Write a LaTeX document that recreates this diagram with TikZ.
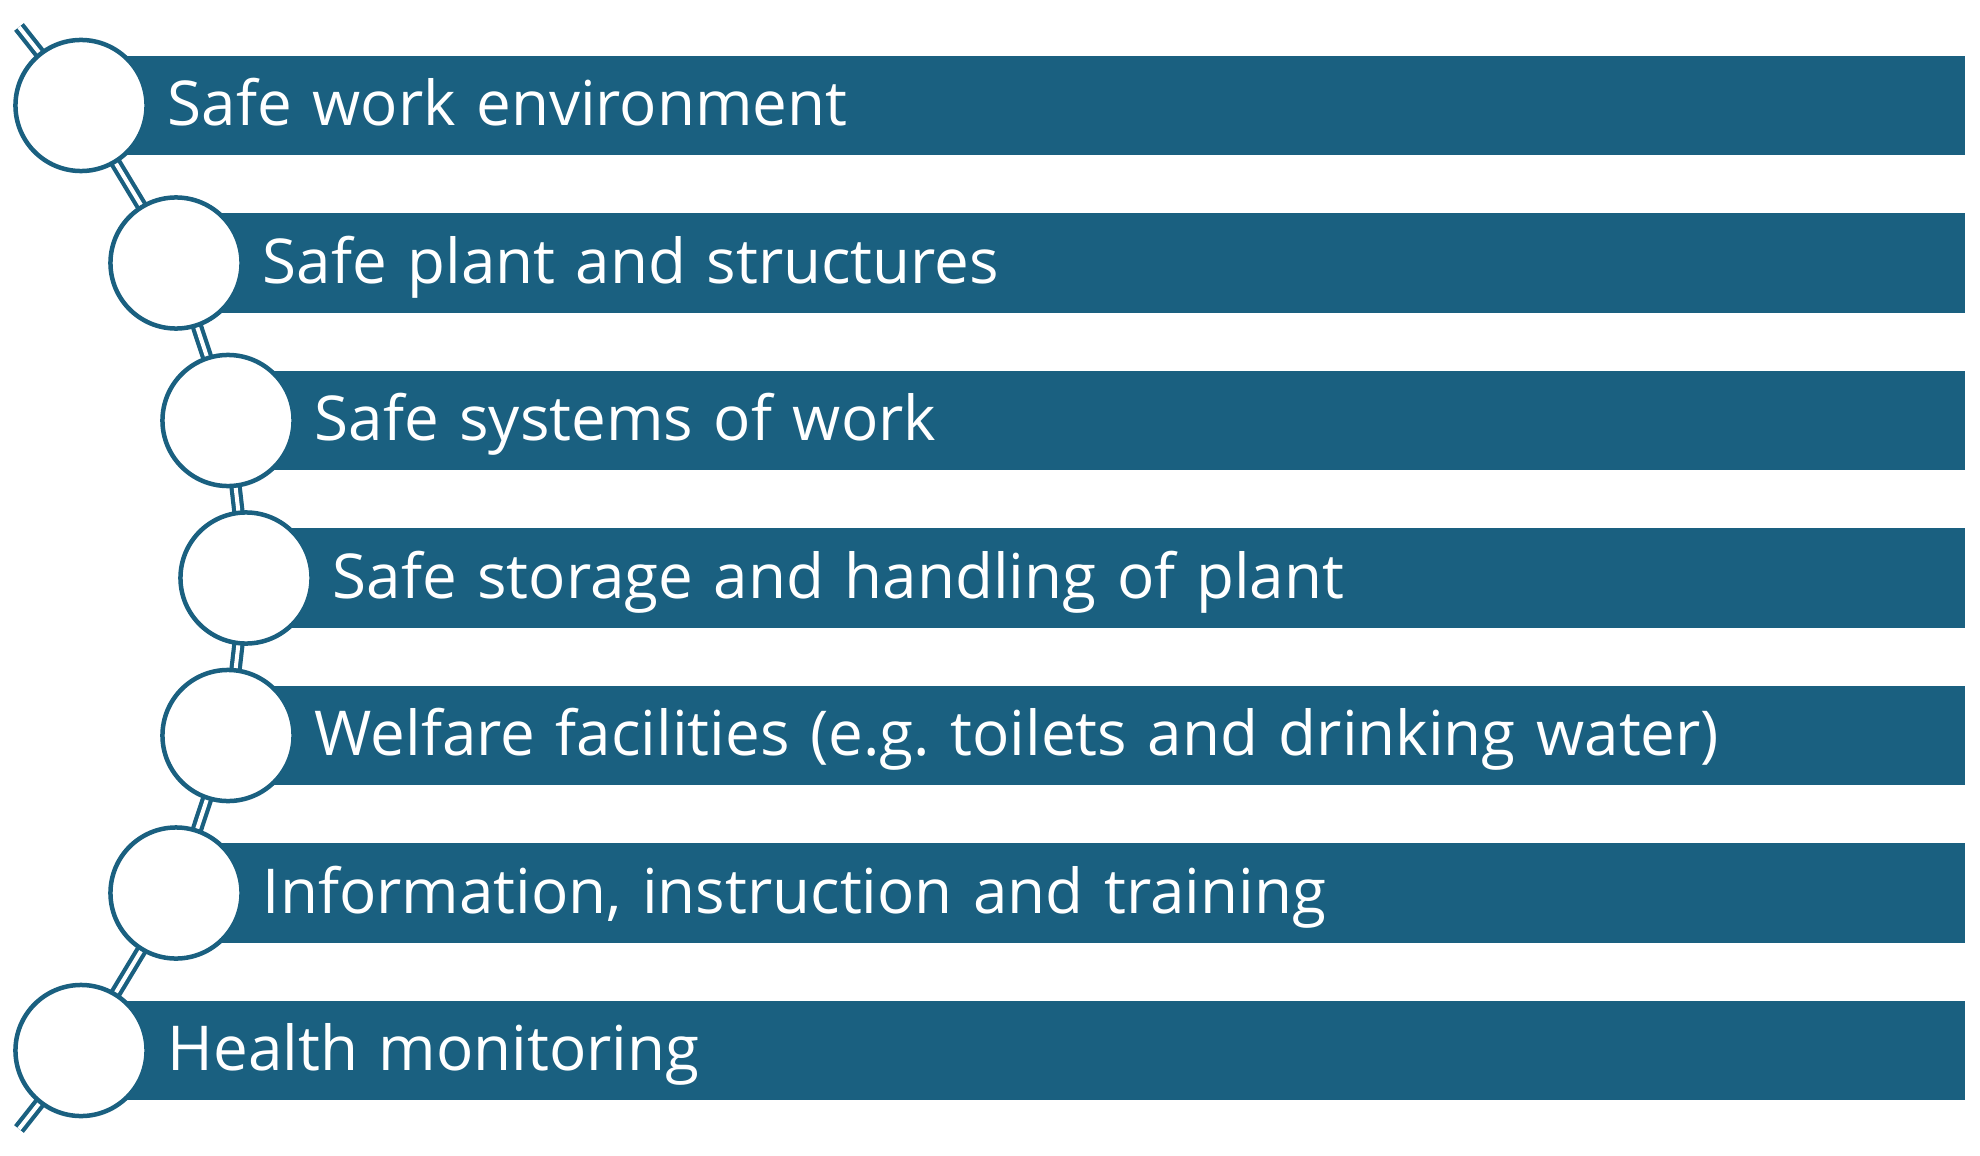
\documentclass[tikz,border=0pt]{standalone}
\usepackage{fontspec}
\setmainfont{Open Sans}
\frenchspacing
\definecolor{bandblue}{RGB}{26,96,128}
\tikzset{
	ring/.style={circle, draw=bandblue, line width=0.045cm, fill=white,
		minimum size=1.31cm, inner sep=0pt},
	band/.style={fill=bandblue, text=white, anchor=west, inner ysep=0pt,
		inner xsep=0.86cm, minimum height=0.99cm, align=left,
		font=\fontsize{17.6}{20}\selectfont, text height=0.44cm, text depth=0.04cm},
	link/.style={draw=bandblue, line width=0.042cm, double=white,
		double distance=0.04cm}
}
\begin{document}
\begin{tikzpicture}[x=0.01cm, y=-0.01cm]
	\useasboundingbox (0,0) rectangle (1980,1155);
	% Mittelpunkte der Kreise
	\foreach \i/\x in {1/81, 2/176, 3/228, 4/246, 5/228, 6/176, 7/81}
		\coordinate (p\i) at (\x, {105.5+157.5*(\i-1)});
	\coordinate (top) at (19,27);
	\coordinate (bot) at (19,1129);
	% Verbindungen
	\foreach \a/\b in {top/p1, p1/p2, p2/p3, p3/p4, p4/p5, p5/p6, p6/p7, p7/bot}
		\draw[link] (\a) -- (\b);
	% Balken mit Text
	\foreach \i/\x/\txt in {1/81/Safe work environment,
			2/176/Safe plant and structures,
			3/228/Safe systems of work,
			4/246/Safe storage and handling of plant,
			5/228/Welfare facilities (e.g. toilets and drinking water),
			6/176/{Information, instruction and training},
			7/81/Health monitoring}{
		\pgfmathsetmacro{\tw}{(1963-\x)/100-1.72}
		\node[band, text width=\tw cm] (bar\i) at (p\i) {\txt};
	}
	% Kreise
	\foreach \i in {1,...,7}
		\node[ring] (c\i) at (p\i) {};
\end{tikzpicture}
\end{document}
